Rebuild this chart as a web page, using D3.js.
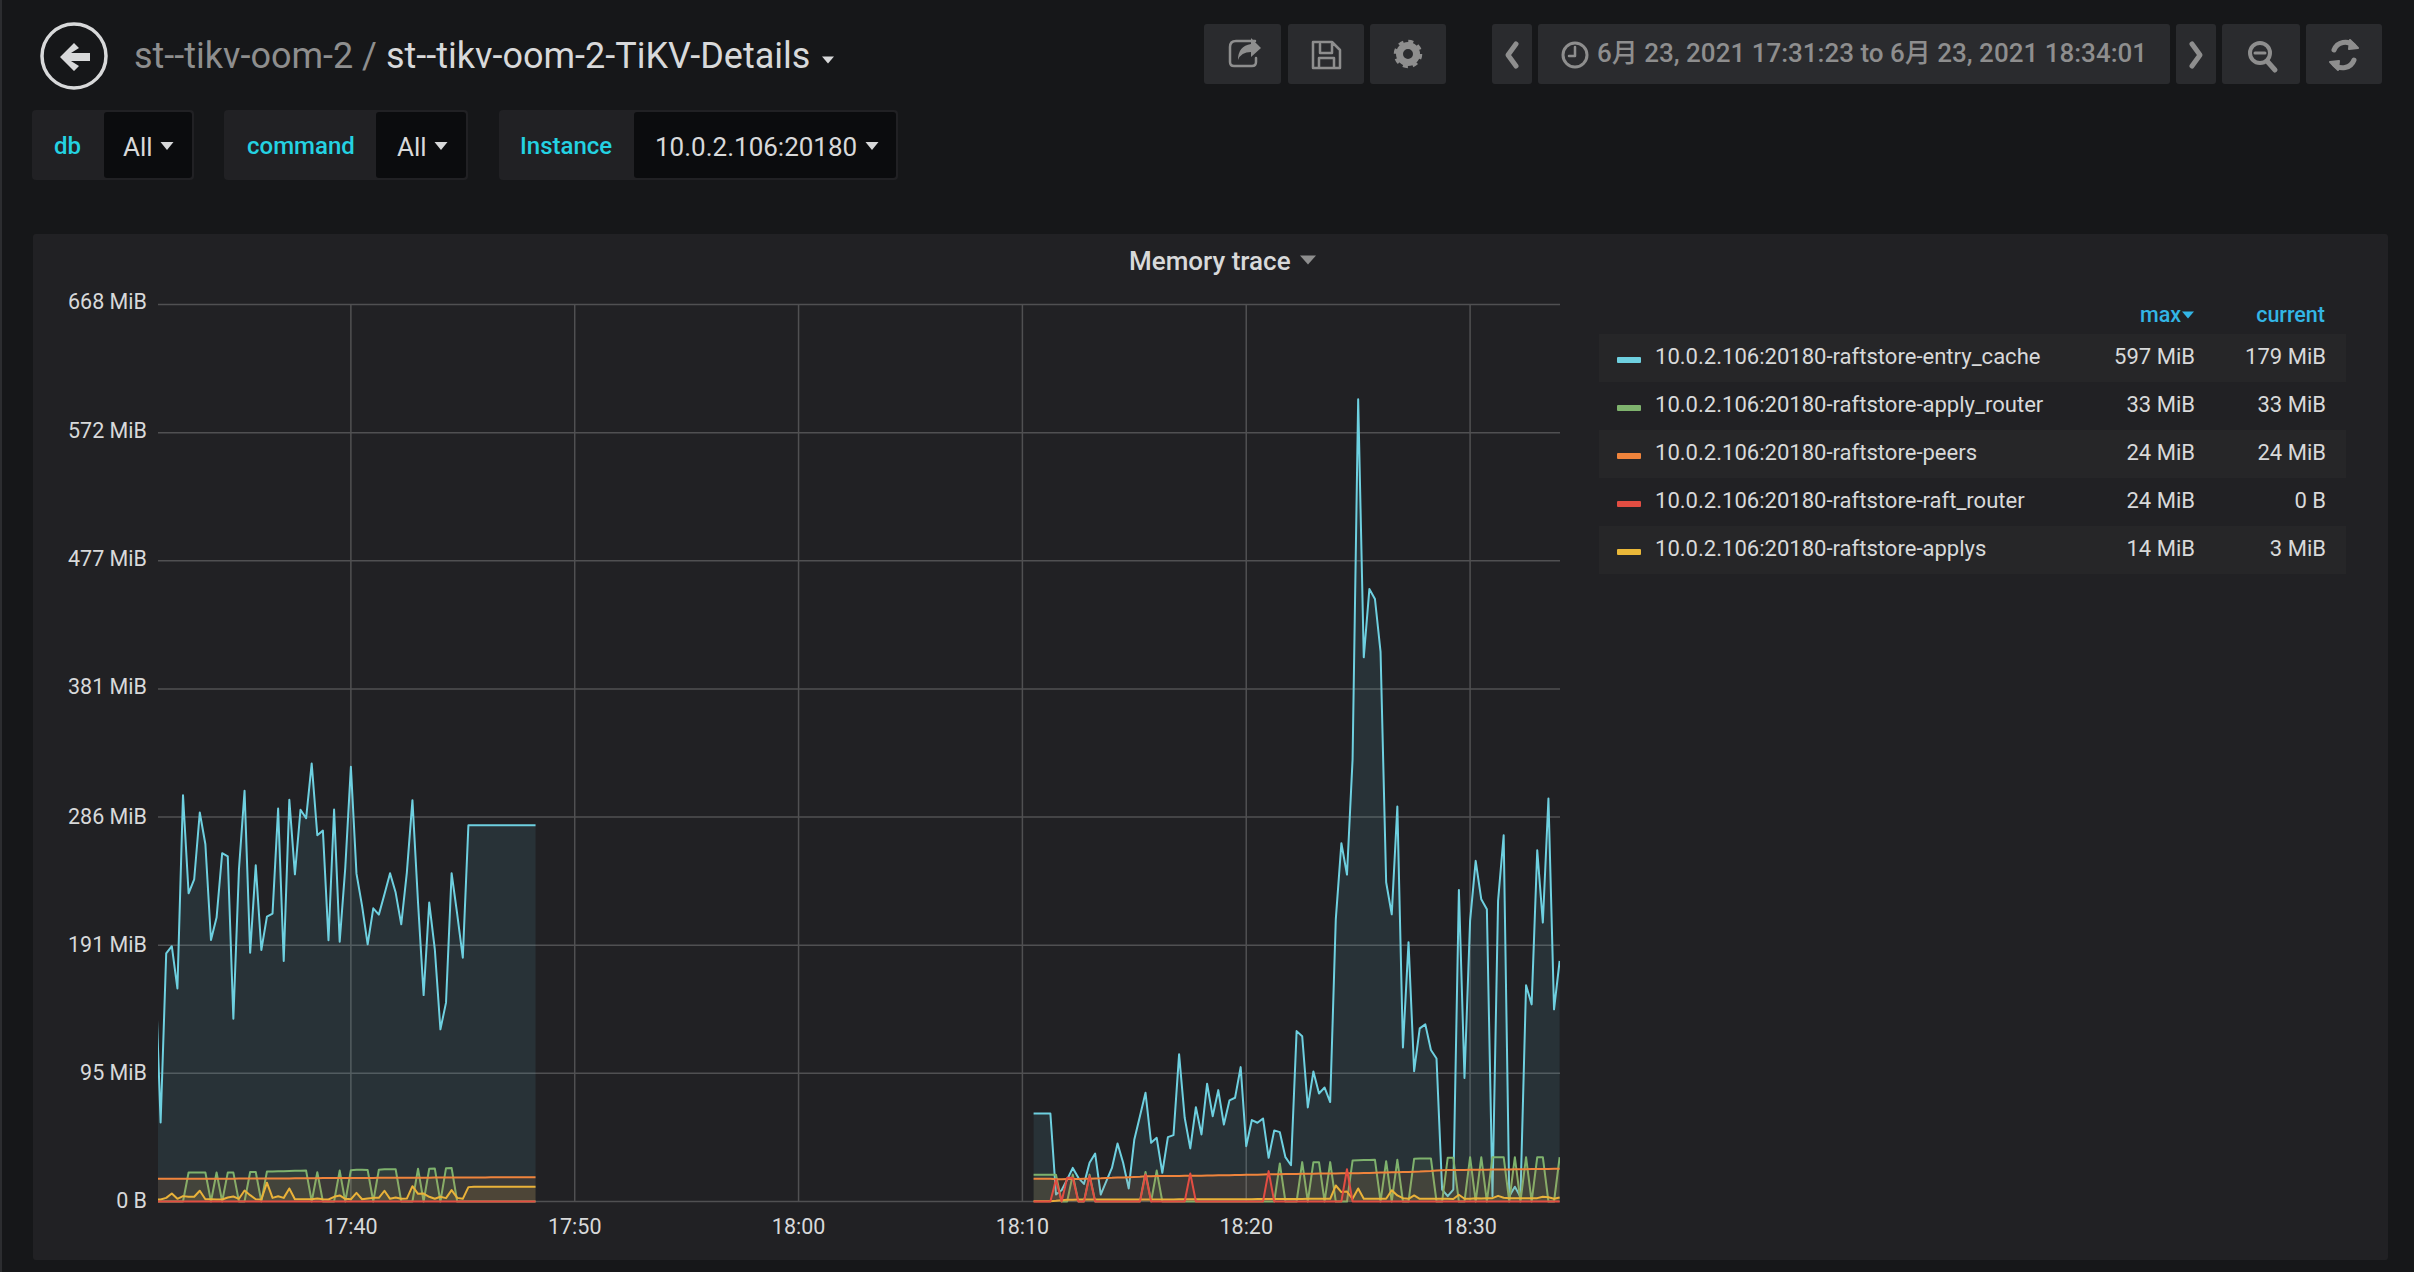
<!DOCTYPE html>
<html><head><meta charset="utf-8">
<style>html,body{margin:0;padding:0;background:#161719;overflow:hidden}svg{display:block}text{font-family:Roboto,"Noto Sans CJK SC",sans-serif}</style>
<script src="https://cdnjs.cloudflare.com/ajax/libs/d3/7.8.5/d3.min.js"></script>
</head><body><svg id="c" width="2414" height="1272"></svg>
<script>
const yTickValues=[0,95.37,190.73,286.1,381.47,476.84,572.2,667.57];
const yTickLabels=["0 B","95 MiB","191 MiB","286 MiB","381 MiB","477 MiB","572 MiB","668 MiB"];
const xTickLabels=["17:40","17:50","18:00","18:10","18:20","18:30"];
const seriesNames=["10.0.2.106:20180-raftstore-entry_cache","10.0.2.106:20180-raftstore-apply_router","10.0.2.106:20180-raftstore-peers","10.0.2.106:20180-raftstore-raft_router","10.0.2.106:20180-raftstore-applys"];
const seriesColors=["#6ED0E0","#7EB26D","#EF843C","#E24D42","#EAB839"];
const legendMax=["597 MiB","33 MiB","24 MiB","24 MiB","14 MiB"];
const legendCurrent=["179 MiB","33 MiB","24 MiB","0 B","3 MiB"];
const variableLabels=["db","command","Instance"];
const variableValues=["All","All","10.0.2.106:20180"];

const cacheA=[177,58.8,184.7,190,158.6,302.4,229.4,239.8,289.5,265.9,194.6,211.3,259.2,256.9,136,247.3,305.6,185.2,250.2,187.2,212,214.3,292.4,179,298.9,243.5,291.5,285.2,326,272.6,276,194.4,291.7,193.4,248.5,323.5,244,220,191.4,218.2,213.5,228.6,244.3,229.9,206.3,244.8,298.7,222.5,153.6,222.5,187.7,128.1,148,244.3,213.8,181.5,280,280,280,280,280,280,280,280,280,280,280,280,280];
const routerA=[0,0,0,0,0,0,21.6,21.6,21.6,21.6,0,21.6,0,21.5,21.5,0,0,22,22,0,22.3,22.4,22.5,22.6,22.7,22.8,22.9,23,0,21.8,0,0,0,23,0,23.3,23.6,23.6,23.4,0,23.6,24,24,24,0,0,0,24.4,0,24.4,24.5,0,24.8,25,0,0,0,0,0,0,0,0,0,0,0,0,0,0,0];
const peersA=[17,17,17,17,17,17,17,17,17,17,17,17,17,17,17,17.1,17.1,17.1,17.1,17.1,17.2,17.2,17.2,17.2,17.2,17.3,17.3,17.3,17.3,17.3,17.4,17.4,17.4,17.4,17.4,17.5,17.5,17.5,17.5,17.5,17.6,17.6,17.6,17.6,17.6,17.7,17.7,17.7,17.7,17.7,17.8,17.8,17.8,17.8,17.8,17.9,17.9,17.9,17.9,17.9,18,18,18,18,18,18,18,18,18];
const raftA=[0,0,0,0,0,0,0,0,0,0,0,0,0,0,0,0,0,0,0,0,0,0,0,0,0,0,0,0,0,0,0,0,0,0,0,0,0,0,0,0,0,0,0,0,0,0,0,0,0,0,0,0,0,0,0,0,0,0,0,0,0,0,0,0,0,0,0,0,0];
const applysA=[1.5,1.5,2.7,5.9,2,4,3.5,3.5,8,1.7,1.7,1.5,1.5,3,3.7,2,8.2,4.7,1.7,1.5,14,2.7,3.9,2.7,9.7,1.7,1.7,1.7,1.7,2.2,1.7,1.5,3.5,4.5,2,1.7,6.4,1.7,2.2,2.7,2.7,8,2,3,2,2.2,11.4,5.7,5.9,3.5,2,3.5,2.5,8.5,2.7,2,10.7,11,11,11,11,11,11,11,11,11,11,11,11];

const cacheB=[65.5,65.5,65.5,65.5,5.2,8.4,16.4,25,17.6,13.1,28.8,35.7,5.2,15.1,25,43.2,28.8,9.7,46.2,63.5,80.9,43.7,47.4,21.4,47.9,49.4,109.5,62.3,39.5,70.2,49.9,87.6,63.5,82.9,57.3,75.2,77.2,100,41.2,60.6,58.6,61.8,32.5,52.9,51.6,33,27,126.8,123,70,96.8,80.4,84.8,74,210,266.6,243.3,329,597,405,455.8,448.4,409,237.6,213.7,294,114.7,193,97,128.8,131.8,112.7,106.4,8.9,4,8.9,231.9,92,208.8,253.5,224.9,217.5,4,223.7,272.6,4,11,3.5,160.9,146.7,261.4,207.6,299.9,143,179];
const routerB=[20,20,20,20,20,0,0,20,0,0,20,0,0,0,0,0,0,0,0,0,22,0,23,0,0,0,0,0,0,0,0,0,0,0,0,0,0,0,0,0,0,0,0,0,28.3,0,0,0,29.3,0,29.3,29.3,0,29.3,0,0,0,30.5,30.7,30.8,30.9,31,0,30,0,31,0,0,31.8,32,32,32,0,0,32.5,32.5,0,0,33,0,33,0,33,33,33,0,33,0,33,0,33,33,0,0,33];
const peersB=[17,17,17,17,16.6,16.6,16.7,16.7,16.8,16.9,17,17.2,17.3,17.5,17.6,17.8,17.9,18.1,18.3,18.5,18.8,18.8,18.9,18.9,19,19,19,19.1,19.1,19.2,19.2,19.3,19.4,19.5,19.6,19.6,19.7,19.8,19.9,19.9,20,20.1,20.2,20.3,20.3,20.4,20.5,20.5,20.6,20.7,20.7,20.8,20.8,20.9,20.9,21,21,21.1,21.1,21.2,21.3,21.4,21.5,21.6,21.7,21.8,21.9,22,22.2,22.3,22.5,22.7,23,23.3,23.4,23.4,23.5,23.5,23.6,23.6,23.7,23.7,23.8,23.8,23.9,23.9,24,24,24,24.1,24.1,24.2,24.2,24.3,24.3];
const raftB=[0,0,0,0,16.4,0,17.6,17.6,0,0,18.9,0,0,0,0,0,0,0,0,0,20.1,0,0,0,0,0,0,0,20.9,0,0,0,0,0,0,0,0,0,0,0,0,0,22.6,0,0,0,0,0,0,0,0,0,0,0,0,0,24,0,0,0,0,0,0,0,0,0,0,0,0,0,0,0,0,0,0,0,0,0,0,0,0,0,0,0,0,0,0,0,0,0,0,0,0,0,0];
const applysB=[0.2,0.2,0.2,0.2,0.5,1,1.3,1.3,1.4,1.4,1.4,1.5,1.5,1.5,1.5,1.5,1.5,1.5,1.5,1.5,1.5,1.5,1.5,1.5,1.5,1.5,1.6,1.6,1.6,1.6,1.6,1.6,1.6,1.6,1.7,1.7,1.7,1.7,1.7,1.7,1.8,1.8,1.8,1.8,1.8,1.8,1.9,1.9,1.9,2,2,2,2,2,11.9,7,7.4,2,9.7,2,2,2,2,2,8.4,4.5,2.5,2,4.5,2,2,2,2,2,2,1.8,5,2,2,2.5,2.3,2.5,2.5,4.2,2.8,2.5,2.5,2.5,2.5,2.5,2.5,3.5,3.2,2,3];

const startA=new Date(2021,5,23,17,31,15), startB=new Date(2021,5,23,18,10,30), stepMs=15000;
const tMin=new Date(2021,5,23,17,31,23), tMax=new Date(2021,5,23,18,34,1);
const xTickTimes=xTickLabels.map(s=>{const [h,m]=s.split(":").map(Number);return new Date(2021,5,23,h,m,0)});

const svg=d3.select("#c");
const R=(x,y,w,h,f,r)=>svg.append("rect").attr("x",x).attr("y",y).attr("width",w).attr("height",h).attr("fill",f).attr("rx",r||0);
const T=(x,y,s,size,fill,anchor,weight)=>svg.append("text").attr("x",x).attr("y",y).text(s).attr("font-size",size).attr("fill",fill).attr("text-anchor",anchor||"start").attr("font-weight",weight||400);
const P=(d,f,s,sw)=>svg.append("path").attr("d",d).attr("fill",f||"none").attr("stroke",s||"none").attr("stroke-width",sw||0).attr("stroke-linejoin","round").attr("stroke-linecap","round");
const caret=(cx,cy,w,h,f)=>P(`M${cx-w/2},${cy-h/2}L${cx+w/2},${cy-h/2}L${cx},${cy+h/2}Z`,f);

R(0,0,2414,1272,"#161719");
R(0,0,2,1272,"#2c2d30");
// back button
svg.append("circle").attr("cx",74).attr("cy",56).attr("r",32).attr("fill","none").attr("stroke","#d8d9da").attr("stroke-width",3.5);
P("M60,57L74,43L79,48L71,53L90,53L90,61L71,61L79,66L74,71Z","#d8d9da");
// title
T(134,68,"st--tikv-oom-2",36,"#8e8e8e");
T(362,68,"/",36,"#8e8e8e");
T(386,68,"st--tikv-oom-2-TiKV-Details",36,"#d8d9da");
caret(828,60,12,7,"#d8d9da");

// variable pickers
const varBoxes=[[32,104,194,54,123,167],[224,376,468,247,397,441],[499,634,898,520,655,872]];
variableLabels.forEach((l,i)=>{
  const [x0,x1,x2,tx,vx,cx]=varBoxes[i];
  R(x0,110,x2-x0,70,"#212124",4);
  R(x1,112,x2-x1-2,66,"#0b0c0e",3);
  T(tx,154,l,24,"#24d2e2","start",500);
  T(vx,156,variableValues[i],26,"#d8d9da");
  caret(cx,146,13,8,"#d8d9da");
});

// toolbar
[[1204,1281],[1288,1364],[1370,1446],[1492,1532],[1538,2170],[2176,2216],[2222,2300],[2306,2382]].forEach(b=>R(b[0],24,b[1]-b[0],60,"#2a2b2e",3));
const G="#8e8e8e";
P("M1255,41L1236,41Q1230,41 1230,47L1230,62Q1230,66 1234,66L1252,66Q1256,66 1256,62L1256,58",null,G,2.5);
P("M1251,38L1261,48L1251,57L1251,52Q1241,52 1238,60Q1238,46 1251,44Z",G);
P("M1313,42L1332,42L1340,50L1340,68L1313,68Z M1320,44L1320,53L1332,53L1332,44 M1319,68L1319,58L1334,58L1334,68",null,G,2.5);
svg.append("circle").attr("cx",1408).attr("cy",54).attr("r",8.5).attr("fill","none").attr("stroke",G).attr("stroke-width",7);
svg.append("circle").attr("cx",1408).attr("cy",54).attr("r",12.5).attr("fill","none").attr("stroke",G).attr("stroke-width",3.5).attr("stroke-dasharray","5 4.8");
P("M1516,44L1508,55L1516,66",null,G,5);
P("M2192,44L2200,55L2192,66",null,G,5);
svg.append("circle").attr("cx",1575).attr("cy",55).attr("r",12).attr("fill","none").attr("stroke",G).attr("stroke-width",3);
P("M1575,47L1575,56L1569,56",null,G,2.5);
T(1597,62,"6月 23, 2021 17:31:23 to 6月 23, 2021 18:34:01",26,G,"start",500);
svg.append("circle").attr("cx",2260).attr("cy",53).attr("r",10).attr("fill","none").attr("stroke",G).attr("stroke-width",4);
P("M2255,53L2265,53",null,G,3);
P("M2267,61L2275,70",null,G,5);
P("M2354,46A12,12 0 0,0 2334,50 M2334,64A12,12 0 0,0 2354,60",null,G,5);
P("M2350,40L2349,49L2358,48Z M2338,70L2339,61L2330,62Z",G,G,2);

// panel
R(33,234,2355,1026,"#212124",3);
T(1129,270,"Memory trace",26,"#d8d9da","start",500);
caret(1308,260,16,9,"#8e8e8e");

// scales
const x=d3.scaleTime().domain([tMin,tMax]).range([158,1560]);
const y=d3.scaleLinear().domain([0,667.57]).range([1201.5,304.5]);

// grid + axes through d3-axis
const gridColor="#505052";
const yAxis=svg.append("g").attr("transform","translate(158,0)").call(d3.axisLeft(y).offset(0).tickValues(yTickValues).tickSize(-1402).tickPadding(11).tickFormat((d,i)=>yTickLabels[i]));
yAxis.select(".domain").remove();
yAxis.selectAll("line").attr("stroke",gridColor).attr("stroke-width",1.5);
yAxis.selectAll("text").attr("fill","#d8d9da").attr("font-size",21.5).attr("font-family","Roboto").attr("y",(d,i)=>i>=4?-2:0);
const xAxis=svg.append("g").attr("transform","translate(0,1201.5)").call(d3.axisBottom(x).offset(0).tickValues(xTickTimes).tickSize(-897).tickPadding(17).tickFormat(d3.timeFormat("%H:%M")));
xAxis.select(".domain").remove();
xAxis.selectAll("line").attr("stroke",gridColor).attr("stroke-width",1.5);
xAxis.selectAll("text").attr("fill","#d8d9da").attr("font-size",21.5).attr("font-family","Roboto");

// series
svg.append("clipPath").attr("id","plot").append("rect").attr("x",158).attr("y",300).attr("width",1402).attr("height",904);
const plot=svg.append("g").attr("clip-path","url(#plot)");
const timeAt=(s,i)=>new Date(s.getTime()+i*stepMs);
const line=d3.line().x(d=>x(d[0])).y(d=>y(d[1]));
const area=d3.area().x(d=>x(d[0])).y0(y(0)).y1(d=>y(d[1]));
const drawOrder=[[0,cacheA,cacheB],[1,routerA,routerB],[4,applysA,applysB],[2,peersA,peersB],[3,raftA,raftB]];
drawOrder.forEach(([k,a,b])=>{
  [[startA,a],[startB,b]].forEach(([s,vals])=>{
    const pts=vals.map((v,i)=>[timeAt(s,i),v]);
    plot.append("path").attr("d",area(pts)).attr("fill",seriesColors[k]).attr("fill-opacity",0.1);
    plot.append("path").attr("d",line(pts)).attr("fill","none").attr("stroke",seriesColors[k]).attr("stroke-width",2).attr("stroke-linejoin","round");
  });
});

// legend
const hdr="#33b5e5";
T(2140,322,"max",21.5,hdr,"start",500);
caret(2188,315,12,7,hdr);
T(2325,322,"current",21.5,hdr,"end",500);
seriesNames.forEach((n,i)=>{
  const top=334+48*i;
  if(i%2==0) R(1599,top,747,48,"#262628");
  R(1617,top+23,24,6,seriesColors[i],1);
  T(1655,top+30,n,22.05,"#d8d9da");
  T(2195,top+30,legendMax[i],22.05,"#d8d9da","end");
  T(2326,top+30,legendCurrent[i],22.05,"#d8d9da","end");
});
</script></body></html>
